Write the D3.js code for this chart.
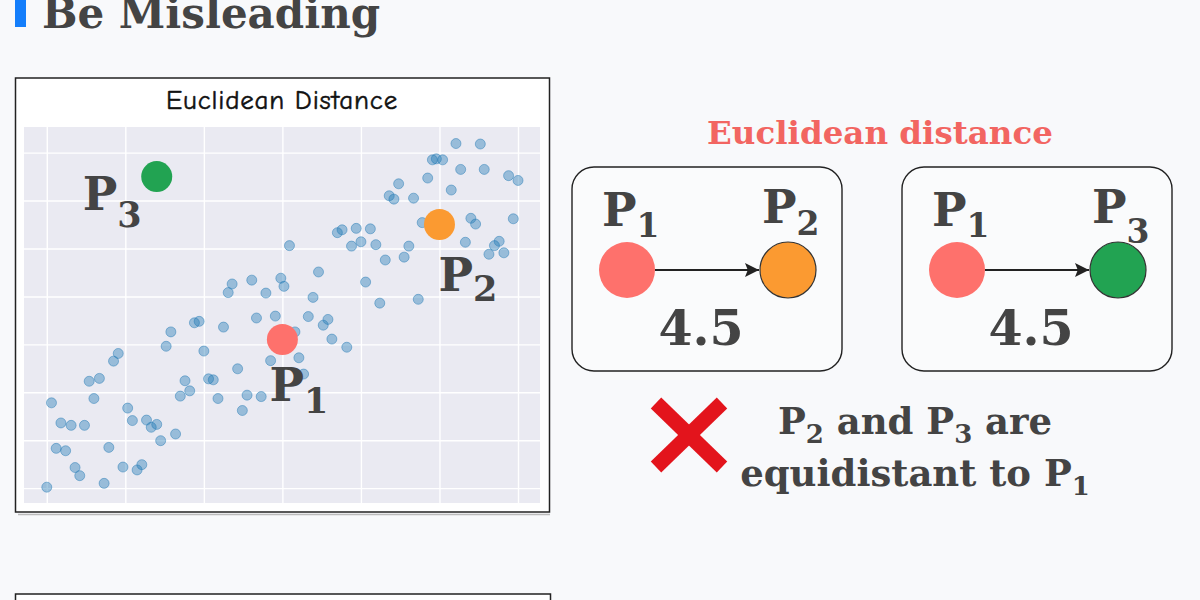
<!DOCTYPE html>
<html>
<head>
<meta charset="utf-8">
<script src="https://cdn.jsdelivr.net/npm/d3@7"></script>
<style>
  html, body { margin: 0; padding: 0; background: #f8f9fb; }
  svg { display: block; }
</style>
</head>
<body>
<svg id="chart" width="1200" height="600"></svg>
<script>
// scatter cloud (grid units)
const xVals = [2.36,2.31,2.61,2.79,2.98,3.02,2.67,2.91,1.88,1.94,1.58,2.25,1.52,2.00,0.91,0.85,2.85,2.43,0.54,0.67,
  1.76,2.06,2.12,1.82,1.70,0.60,0.06,2.18,2.55,2.73,2.49,1.03,1.09,1.27,1.33,1.40,0.18,0.31,0.48,1.45,
  1.64,0.12,0.24,0.79,0.36,0.42,0.97,1.15,1.21,0.73,0.00,3.33,3.52,3.58,3.63,3.82,3.21,3.27,3.16,5.21,
  5.52,4.91,4.96,5.04,5.27,5.57,5.88,6.00,4.85,4.48,5.15,4.36,4.42,4.67,5.94,4.78,5.40,5.46,3.70,3.76,
  3.94,4.12,3.88,4.00,4.19,3.09,4.61,5.33,5.76,5.70,5.63,5.82,4.31,4.55,3.46,4.06,3.39,4.73,4.24];
const yVals = [4.26,4.08,4.34,4.07,4.38,4.21,3.55,3.59,3.45,3.48,3.26,3.36,2.96,2.86,2.81,2.65,2.66,2.49,2.23,2.29,
  2.24,2.28,2.26,2.03,1.92,1.87,1.78,1.87,1.94,1.91,1.62,1.67,1.41,1.42,1.27,1.33,1.36,1.31,1.31,0.99,
  1.13,0.83,0.78,0.85,0.43,0.26,0.44,0.38,0.49,0.10,0.02,3.58,3.40,3.52,3.11,2.94,2.72,2.38,3.26,7.19,
  7.18,6.85,6.87,6.85,6.65,6.65,6.52,6.42,6.47,6.35,6.22,6.10,6.03,6.05,5.62,5.54,5.63,5.51,5.33,5.39,
  5.42,5.41,5.05,5.14,5.08,5.06,5.05,5.13,5.15,5.06,4.88,4.91,4.76,4.82,4.51,4.30,3.98,3.94,3.86];

// the three highlighted points
const pointNames = ["1", "2", "3"];
const pointX = [3.00, 5.00, 1.40];
const pointY = [3.10, 5.50, 6.50];

const xTicks = [0, 1, 2, 3, 4, 5, 6];
const yTicks = [0, 1, 2, 3, 4, 5, 6, 7];

// comparison boxes: from -> to, and the distance shown
const pairFrom = ["1", "1"];
const pairTo = ["2", "3"];
const pairDist = [4.5, 4.5];

const pageTitle = "Be Misleading";
const plotTitle = "Euclidean Distance";
const panelTitle = "Euclidean distance";

const serif = "'DejaVu Serif', 'Liberation Serif', serif";
const ink = "#444";
const pointColor = { "1": "#fe716c", "2": "#fb9a31", "3": "#22a352" };

const svg = d3.select("#chart");

// arrow marker
svg.append("defs").append("marker")
  .attr("id", "arrow")
  .attr("viewBox", "0 0 10 10")
  .attr("refX", 10).attr("refY", 5)
  .attr("markerWidth", 7).attr("markerHeight", 7)
  .attr("markerUnits", "strokeWidth")
  .attr("orient", "auto")
  .append("path")
  .attr("d", "M0,0 L10,5 L0,10 L2,5 z")
  .attr("fill", "#222");

// page heading (cut at the top)
svg.append("rect").attr("x", 15).attr("y", 0).attr("width", 11).attr("height", 27).attr("fill", "#147efb");
svg.append("text")
  .attr("x", 42).attr("y", 28)
  .attr("font-family", serif).attr("font-weight", "bold").attr("font-size", 42)
  .attr("fill", ink)
  .text(pageTitle);

// ---------- scatter panel ----------
svg.append("rect")
  .attr("x", 15.5).attr("y", 78).attr("width", 534).attr("height", 434)
  .attr("fill", "#fff").attr("stroke", "#222").attr("stroke-width", 1.5);
svg.append("line")
  .attr("x1", 18).attr("x2", 550).attr("y1", 514.5).attr("y2", 514.5)
  .attr("stroke", "#bbb").attr("stroke-width", 1.5);

svg.append("text")
  .attr("x", 282).attr("y", 109)
  .attr("text-anchor", "middle")
  .attr("font-family", "'Comic Sans MS', 'Comic Neue', 'Noto Sans', sans-serif")
  .attr("font-size", 27).attr("letter-spacing", 0.8)
  .attr("fill", "#111").attr("stroke", "#111").attr("stroke-width", 0.5)
  .text(plotTitle);

const x = d3.scaleLinear().domain([-0.29, 6.28]).range([24, 540]);
const y = d3.scaleLinear().domain([-0.31, 7.535]).range([503, 127]);

const plot = svg.append("g");
plot.append("rect")
  .attr("x", x.range()[0]).attr("y", y.range()[1])
  .attr("width", x.range()[1] - x.range()[0])
  .attr("height", y.range()[0] - y.range()[1])
  .attr("fill", "#eaeaf2");

// grid via axes with no labels
plot.append("g")
  .attr("transform", `translate(0,${y.range()[0]})`)
  .call(d3.axisBottom(x).tickValues(xTicks).tickSize(-(y.range()[0] - y.range()[1])).tickFormat(""))
  .call(g => g.select(".domain").remove())
  .selectAll("line").attr("stroke", "#fff").attr("stroke-width", 1.4);
plot.append("g")
  .attr("transform", `translate(${x.range()[0]},0)`)
  .call(d3.axisLeft(y).tickValues(yTicks).tickSize(-(x.range()[1] - x.range()[0])).tickFormat(""))
  .call(g => g.select(".domain").remove())
  .selectAll("line").attr("stroke", "#fff").attr("stroke-width", 1.4);

const cloud = xVals.map((v, i) => ({ x: v, y: yVals[i] }));
plot.selectAll(".dot")
  .data(cloud)
  .enter().append("circle")
  .classed("dot", true)
  .attr("cx", d => x(d.x))
  .attr("cy", d => y(d.y))
  .attr("r", 5)
  .attr("fill", "#1f77b4").attr("fill-opacity", 0.4)
  .attr("stroke", "#1f77b4").attr("stroke-opacity", 0.45).attr("stroke-width", 1);

const specials = pointNames.map((n, i) => ({ name: n, x: pointX[i], y: pointY[i] }));
plot.selectAll(".special")
  .data(specials)
  .enter().append("circle")
  .classed("special", true)
  .attr("cx", d => x(d.x))
  .attr("cy", d => y(d.y))
  .attr("r", 15.5)
  .attr("fill", d => pointColor[d.name]);

// label offsets from each point (layout only)
const labelOffset = {
  "1": { dx: -13, dy: 61, sub: 12 },
  "2": { dx: -1, dy: 66, sub: 10 },
  "3": { dx: -74, dy: 33, sub: 17 }
};

function pLabel(sel, name, px, py, size, subSize, subShift) {
  const t = sel.append("text")
    .attr("x", px).attr("y", py)
    .attr("font-family", serif).attr("font-weight", "bold")
    .attr("font-size", size).attr("fill", ink);
  t.append("tspan").text("P");
  t.append("tspan").attr("font-size", subSize).attr("dy", subShift).text(name);
  return t;
}

specials.forEach(d => {
  const o = labelOffset[d.name];
  pLabel(plot, d.name, x(d.x) + o.dx, y(d.y) + o.dy, 46, 35, o.sub);
});

// ---------- right panel ----------
svg.append("text")
  .attr("x", 880).attr("y", 144)
  .attr("text-anchor", "middle")
  .attr("font-family", serif).attr("font-weight", "bold").attr("font-size", 32.5)
  .attr("fill", "#f26561")
  .text(panelTitle);

const boxLeft = [572, 902];
const boxes = svg.selectAll(".box")
  .data(pairFrom.map((f, i) => ({ from: f, to: pairTo[i], dist: pairDist[i], left: boxLeft[i] })))
  .enter().append("g")
  .classed("box", true)
  .attr("transform", d => `translate(${d.left},0)`);

boxes.append("rect")
  .attr("x", 0).attr("y", 167).attr("width", 270).attr("height", 204)
  .attr("rx", 22).attr("ry", 22)
  .attr("fill", "#fafbfc").attr("stroke", "#222").attr("stroke-width", 1.4);

boxes.append("line")
  .attr("x1", 83).attr("x2", 187).attr("y1", 270).attr("y2", 270)
  .attr("stroke", "#222").attr("stroke-width", 2)
  .attr("marker-end", "url(#arrow)");

boxes.append("circle")
  .attr("cx", 55).attr("cy", 270).attr("r", 28)
  .attr("fill", d => pointColor[d.from]);
boxes.append("circle")
  .attr("cx", 216).attr("cy", 270).attr("r", 28)
  .attr("fill", d => pointColor[d.to])
  .attr("stroke", "#333").attr("stroke-width", 1.2);

boxes.each(function (d) {
  const g = d3.select(this);
  pLabel(g, d.from, 30, 226, 46, 33, 11);
  pLabel(g, d.to, 190, 223, 46, 33, d.to === "3" ? 20 : 12);
  g.append("text")
    .attr("x", 129).attr("y", 345)
    .attr("text-anchor", "middle")
    .attr("font-family", serif).attr("font-weight", "bold").attr("font-size", 49)
    .attr("fill", ink)
    .text(d3.format(".1f")(d.dist));
});

// red cross
const cross = svg.append("g").attr("stroke", "#e3141c").attr("stroke-width", 15);
cross.append("line").attr("x1", 656).attr("y1", 403).attr("x2", 722).attr("y2", 467);
cross.append("line").attr("x1", 722).attr("y1", 403).attr("x2", 656).attr("y2", 467);

// verdict text
const verdict = [
  [["P", 0], ["2", 1], [" and P", 0], ["3", 1], [" are", 0]],
  [["equidistant to P", 0], ["1", 1]]
];
const verdictY = [434, 486];
verdict.forEach((parts, li) => {
  const t = svg.append("text")
    .attr("x", 915).attr("y", verdictY[li])
    .attr("text-anchor", "middle")
    .attr("font-family", serif).attr("font-weight", "bold").attr("font-size", 37)
    .attr("fill", ink);
  let shifted = 0;
  parts.forEach(([s, sub]) => {
    const dy = sub ? 9 - shifted : -shifted;
    shifted = sub ? 9 : 0;
    t.append("tspan").attr("dy", dy).attr("font-size", sub ? 26 : 37).text(s);
  });
});

// next panel peeking in at the bottom
svg.append("rect")
  .attr("x", 15.5).attr("y", 594).attr("width", 535).attr("height", 30)
  .attr("fill", "#fff").attr("stroke", "#222").attr("stroke-width", 1.5);
</script>
</body>
</html>
